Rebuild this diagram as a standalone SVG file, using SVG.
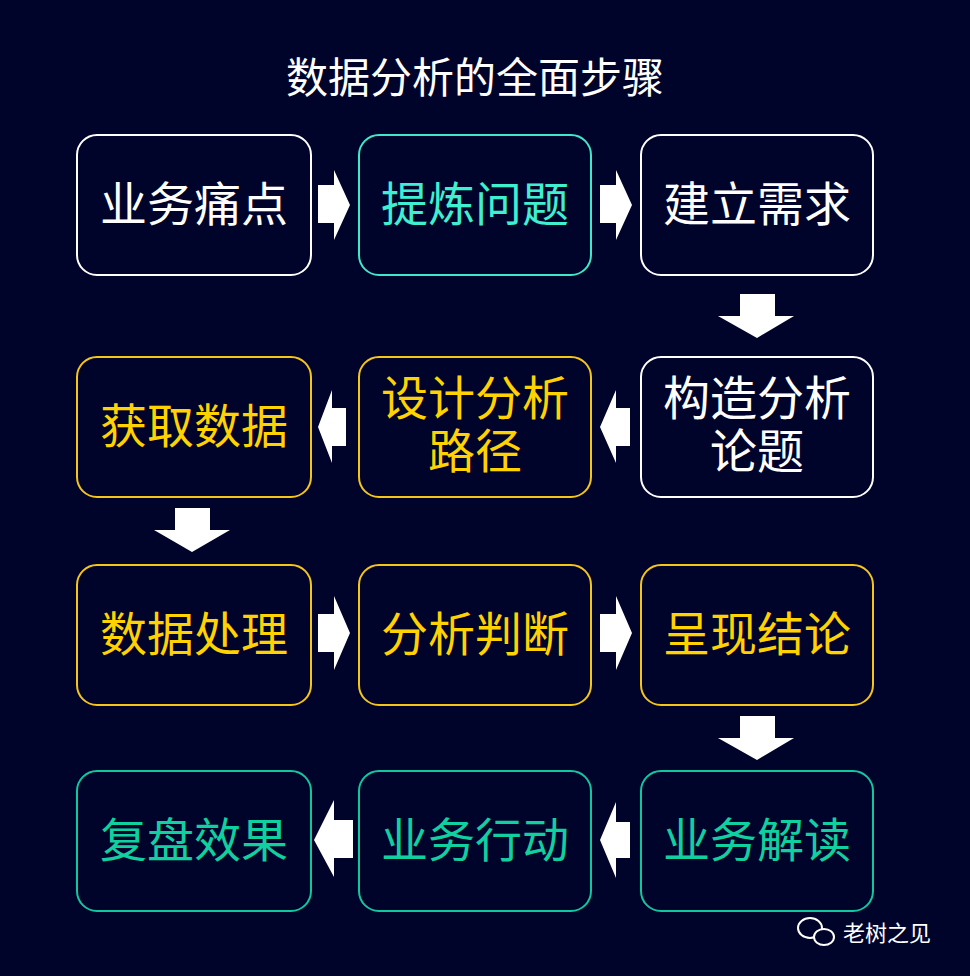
<svg xmlns="http://www.w3.org/2000/svg" width="970" height="976" viewBox="0 0 970 976">
<style>
.b{fill:none;stroke-width:2}
.t{font-family:"Noto Sans CJK SC","Liberation Sans",sans-serif;font-size:47px;text-anchor:middle}
.a{fill:#fff}
</style>
<rect width="970" height="976" fill="#00032a"/>
<text x="475" y="93" class="t" style="font-size:42px" fill="#fff">数据分析的全面步骤</text>
<g id="n1"><rect class="b" x="77" y="135" width="234" height="140" rx="20" stroke="#fff"/><text class="t" x="194" y="221" fill="#fff">业务痛点</text></g>
<g id="n2"><rect class="b" x="359" y="135" width="232" height="140" rx="20" stroke="#3ee8c8"/><text class="t" x="475" y="221" fill="#3ff0d0">提炼问题</text></g>
<g id="n3"><rect class="b" x="641" y="135" width="232" height="140" rx="20" stroke="#fff"/><text class="t" x="757" y="221" fill="#fff">建立需求</text></g>
<g id="n4"><rect class="b" x="641" y="357" width="232" height="140" rx="20" stroke="#fff"/><text class="t" x="757" y="415" fill="#fff">构造分析</text><text class="t" x="757" y="468" fill="#fff">论题</text></g>
<g id="n5"><rect class="b" x="359" y="357" width="232" height="140" rx="20" stroke="#f5c518"/><text class="t" x="475" y="415" fill="#ffd200">设计分析</text><text class="t" x="475" y="468" fill="#ffd200">路径</text></g>
<g id="n6"><rect class="b" x="77" y="357" width="234" height="140" rx="20" stroke="#f5c518"/><text class="t" x="194" y="443" fill="#ffd200">获取数据</text></g>
<g id="n7"><rect class="b" x="77" y="565" width="234" height="140" rx="20" stroke="#f5c518"/><text class="t" x="194" y="651" fill="#ffd200">数据处理</text></g>
<g id="n8"><rect class="b" x="359" y="565" width="232" height="140" rx="20" stroke="#f5c518"/><text class="t" x="475" y="651" fill="#ffd200">分析判断</text></g>
<g id="n9"><rect class="b" x="641" y="565" width="232" height="140" rx="20" stroke="#f5c518"/><text class="t" x="757" y="651" fill="#ffd200">呈现结论</text></g>
<g id="n10"><rect class="b" x="641" y="771" width="232" height="140" rx="20" stroke="#10c8a0"/><text class="t" x="757" y="857" fill="#10d0a0">业务解读</text></g>
<g id="n11"><rect class="b" x="359" y="771" width="232" height="140" rx="20" stroke="#10c8a0"/><text class="t" x="475" y="857" fill="#10d0a0">业务行动</text></g>
<g id="n12"><rect class="b" x="77" y="771" width="234" height="140" rx="20" stroke="#10c8a0"/><text class="t" x="194" y="857" fill="#10d0a0">复盘效果</text></g>
<g id="connectors">
<polygon class="a" points="318,185 334,185 334,170 350,205 334,240 334,223 318,223"/>
<polygon class="a" points="600,185 616,185 616,170 632,205 616,240 616,223 600,223"/>
<polygon class="a" points="740,294 775,294 775,316 794,316 757,338 718,316 740,316"/>
<polygon class="a" points="630,408 616,408 616,390 600,427 616,463 616,446 630,446"/>
<polygon class="a" points="346,408 332,408 332,390 318,427 332,463 332,446 346,446"/>
<polygon class="a" points="175,508 210,508 210,530 230,530 192,552 154,530 175,530"/>
<polygon class="a" points="318,614 334,614 334,596 350,633 334,670 334,652 318,652"/>
<polygon class="a" points="600,614 616,614 616,596 632,633 616,670 616,652 600,652"/>
<polygon class="a" points="740,716 775,716 775,738 794,738 757,760 718,738 740,738"/>
<polygon class="a" points="630,822 616,822 616,802 600,840 616,878 616,858 630,858"/>
<polygon class="a" points="353,820 334,820 334,800 314,840 334,877 334,858 353,858"/>
</g>
<g id="watermark">
<ellipse cx="810" cy="928" rx="12" ry="10" fill="none" stroke="#fff" stroke-width="2"/>
<ellipse cx="824" cy="937" rx="10" ry="8" fill="#00032a" stroke="#fff" stroke-width="2"/>
<text x="843" y="941" font-family="Noto Sans CJK SC,sans-serif" font-size="22" fill="#fff">老树之见</text>
</g>
</svg>
